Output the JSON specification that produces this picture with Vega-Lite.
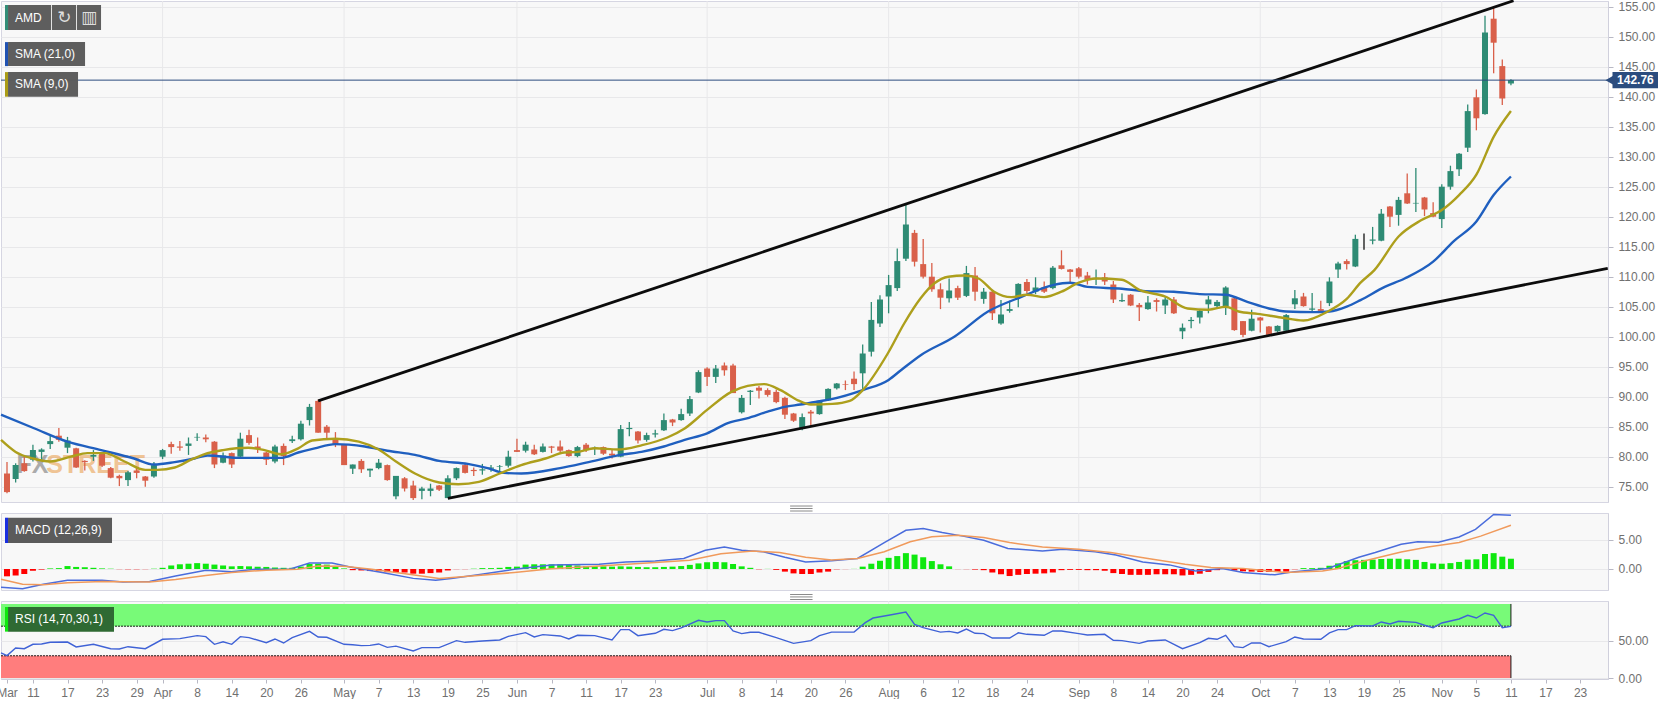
{"$schema":"https://vega.github.io/schema/vega-lite/v6.json","background":"#ffffff","padding":{"left":-5,"top":-6,"right":0,"bottom":0},"autosize":{"type":"pad"},"spacing":0,
"config":{"view":{"fill":"#f8f8f8","stroke":"#d6d6e2"},"font":"Liberation Sans","axis":{"labelFont":"Liberation Sans","labelColor":"#707070","labelFontSize":12,"tickColor":"#b8b8c4","domainColor":"#d0d0dc","gridColor":"#e8e8ea","title":null,"labelBound":false}},
"datasets":{
"months":[{"t":18},{"t":39},{"t":59},{"t":81},{"t":102},{"t":124},{"t":145},{"t":166}],
"candles":[
{"t":0,"o":77.2,"h":79.1,"l":73.9,"c":74.1},{"t":1,"o":76.3,"h":78.9,"l":75.7,"c":78.6},{"t":2,"o":78.9,"h":80.3,"l":77.5,"c":77.6},{"t":3,"o":79.5,"h":82,"l":79.2,"c":81.1},{"t":4,"o":80.8,"h":81.4,"l":79.5,"c":81.2},{"t":5,"o":82.1,"h":83.5,"l":81.3,"c":82.6},{"t":6,"o":83.5,"h":84.8,"l":82.5,"c":82.8},{"t":7,"o":81.5,"h":83.3,"l":80.6,"c":82.7},{"t":8,"o":81.4,"h":81.5,"l":78.1,"c":78.2},{"t":9,"o":79.3,"h":79.4,"l":77.7,"c":79.1},
{"t":10,"o":80,"h":81.1,"l":79.3,"c":80.3},{"t":11,"o":80.6,"h":80.8,"l":78.3,"c":78.5},{"t":12,"o":78.1,"h":78.3,"l":76.4,"c":76.5},{"t":13,"o":76.8,"h":77,"l":75.1,"c":76.4},{"t":14,"o":76.1,"h":77.6,"l":75.1,"c":77.4},{"t":15,"o":77.7,"h":78.3,"l":76.4,"c":77.3},{"t":16,"o":76.7,"h":76.8,"l":75,"c":76},{"t":17,"o":76.7,"h":79.1,"l":76.5,"c":78.6},{"t":18,"o":80,"h":81.3,"l":79.6,"c":81.1},{"t":19,"o":82.1,"h":82.5,"l":80.5,"c":81.6},
{"t":20,"o":81.7,"h":82.6,"l":81,"c":81.5},{"t":21,"o":81.8,"h":83.2,"l":80.3,"c":82.2},{"t":22,"o":83.2,"h":83.9,"l":82.6,"c":83.3},{"t":23,"o":83.2,"h":83.7,"l":82.4,"c":82.9},{"t":24,"o":82.5,"h":82.6,"l":78.1,"c":78.7},{"t":25,"o":79,"h":80.7,"l":78.9,"c":80.2},{"t":26,"o":80.6,"h":80.7,"l":78.1,"c":78.7},{"t":27,"o":80,"h":84,"l":79.7,"c":83},{"t":28,"o":83.6,"h":84.5,"l":82,"c":82.3},{"t":29,"o":81.7,"h":83.2,"l":80.6,"c":81.3},
{"t":30,"o":80.7,"h":80.8,"l":78.6,"c":79.5},{"t":31,"o":79.2,"h":82,"l":78.9,"c":81.7},{"t":32,"o":81.8,"h":82.2,"l":78.6,"c":80.1},{"t":33,"o":82.6,"h":83.5,"l":82.3,"c":82.9},{"t":34,"o":82.9,"h":86,"l":82.7,"c":85.5},{"t":35,"o":86.1,"h":88.8,"l":85.2,"c":88.3},{"t":36,"o":89.3,"h":89.5,"l":84,"c":84},{"t":37,"o":85,"h":85.3,"l":83.1,"c":84},{"t":38,"o":82.9,"h":84.1,"l":81.6,"c":82},{"t":39,"o":82,"h":82.1,"l":78.6,"c":78.6},
{"t":40,"o":78,"h":78.7,"l":77.1,"c":78.7},{"t":41,"o":79.3,"h":79.6,"l":77.3,"c":77.9},{"t":42,"o":77.7,"h":78,"l":76.6,"c":78},{"t":43,"o":78.1,"h":79.6,"l":77.9,"c":79},{"t":44,"o":78.6,"h":78.7,"l":76,"c":76.1},{"t":45,"o":73.4,"h":76.8,"l":72.9,"c":76.8},{"t":46,"o":76.4,"h":76.6,"l":74.2,"c":74.7},{"t":47,"o":75.2,"h":76,"l":72.8,"c":73.1},{"t":48,"o":74.3,"h":75,"l":72.9,"c":74.7},{"t":49,"o":74.3,"h":75.5,"l":73.4,"c":74.7},
{"t":50,"o":75.2,"h":75.3,"l":74.3,"c":74.5},{"t":51,"o":73.1,"h":76.9,"l":73.1,"c":76.4},{"t":52,"o":76.4,"h":78.2,"l":76.1,"c":78.1},{"t":53,"o":78.6,"h":78.8,"l":77.2,"c":77.3},{"t":54,"o":77.8,"h":78.2,"l":76.8,"c":77.6},{"t":55,"o":77.7,"h":78.8,"l":77,"c":77.9},{"t":56,"o":78,"h":78.6,"l":77.5,"c":78.2},{"t":57,"o":78.3,"h":78.6,"l":77.3,"c":78.4},{"t":58,"o":78.5,"h":81,"l":78.2,"c":80},{"t":59,"o":81.1,"h":83,"l":80.8,"c":80.8},
{"t":60,"o":81,"h":82.5,"l":80.7,"c":82},{"t":61,"o":81.2,"h":82,"l":80.3,"c":80.4},{"t":62,"o":80.8,"h":82.2,"l":80.7,"c":81.7},{"t":63,"o":81.7,"h":81.8,"l":80.6,"c":81.5},{"t":64,"o":81.7,"h":82.7,"l":80.8,"c":81},{"t":65,"o":81.1,"h":81.2,"l":80,"c":80.1},{"t":66,"o":80.1,"h":81.8,"l":79.9,"c":81.6},{"t":67,"o":82,"h":82.3,"l":80.8,"c":81.1},{"t":68,"o":81.3,"h":81.7,"l":80.3,"c":81.5},{"t":69,"o":81.6,"h":81.7,"l":80.3,"c":80.5},
{"t":70,"o":80.5,"h":81.2,"l":79.7,"c":80.2},{"t":71,"o":80,"h":85.3,"l":79.9,"c":84.6},{"t":72,"o":84.6,"h":85.8,"l":83.4,"c":84.8},{"t":73,"o":84.2,"h":84.3,"l":82.2,"c":82.7},{"t":74,"o":82.8,"h":84,"l":82.5,"c":83.6},{"t":75,"o":83.7,"h":84.5,"l":83.2,"c":83.9},{"t":76,"o":84.4,"h":87.2,"l":84.3,"c":86.1},{"t":77,"o":86.2,"h":86.3,"l":85.1,"c":85.7},{"t":78,"o":86.1,"h":88,"l":86,"c":87.1},{"t":79,"o":87.2,"h":90.1,"l":86.8,"c":89.6},
{"t":80,"o":90.7,"h":94.4,"l":90.6,"c":94.1},{"t":81,"o":94.7,"h":94.9,"l":91.8,"c":93.3},{"t":82,"o":93.3,"h":95.3,"l":92.3,"c":94.7},{"t":83,"o":95.2,"h":95.7,"l":93.5,"c":94.4},{"t":84,"o":95.2,"h":95.5,"l":90.6,"c":90.6},{"t":85,"o":87.4,"h":90.3,"l":87.2,"c":89.8},{"t":86,"o":90.8,"h":91.1,"l":88.6,"c":91},{"t":87,"o":91.5,"h":91.8,"l":89.7,"c":91},{"t":88,"o":91.1,"h":91.4,"l":90,"c":90.3},{"t":89,"o":90.8,"h":91.2,"l":88.9,"c":89.1},
{"t":90,"o":89.8,"h":90,"l":86.3,"c":87},{"t":91,"o":87.2,"h":87.3,"l":85.8,"c":86},{"t":92,"o":84.7,"h":87.2,"l":84.4,"c":86.6},{"t":93,"o":87.5,"h":87.8,"l":85.1,"c":87.2},{"t":94,"o":87.1,"h":89.4,"l":87,"c":89.3},{"t":95,"o":89.4,"h":91.4,"l":89.3,"c":91.3},{"t":96,"o":91.4,"h":92.3,"l":91.2,"c":92.2},{"t":97,"o":92.1,"h":92.7,"l":91.1,"c":92},{"t":98,"o":93,"h":94.2,"l":91.1,"c":92.1},{"t":99,"o":93.9,"h":98.7,"l":91.1,"c":97.2},
{"t":100,"o":97.5,"h":105.8,"l":96.7,"c":102.8},{"t":101,"o":102.2,"h":106.9,"l":101.6,"c":106.2},{"t":102,"o":106.7,"h":110.3,"l":103.9,"c":108.6},{"t":103,"o":108.1,"h":114.7,"l":107.6,"c":112.6},{"t":104,"o":113,"h":122.1,"l":112.6,"c":118.7},{"t":105,"o":117.3,"h":117.8,"l":111.7,"c":112.5},{"t":106,"o":112.1,"h":116.3,"l":109.7,"c":110},{"t":107,"o":110,"h":112.3,"l":107.5,"c":107.9},{"t":108,"o":107.9,"h":108.9,"l":104.6,"c":106.5},{"t":109,"o":106.4,"h":109.7,"l":105.7,"c":107.7},
{"t":110,"o":108.1,"h":108.5,"l":106.1,"c":106.5},{"t":111,"o":106.8,"h":111.8,"l":106.6,"c":110.6},{"t":112,"o":110.2,"h":111.6,"l":106,"c":107.5},{"t":113,"o":106.3,"h":108.1,"l":105.5,"c":107.5},{"t":114,"o":107.5,"h":107.6,"l":102.8,"c":103.9},{"t":115,"o":102.2,"h":106.1,"l":102,"c":103.7},{"t":116,"o":104.3,"h":106,"l":104,"c":104.6},{"t":117,"o":106.5,"h":108.9,"l":104.9,"c":108.8},{"t":118,"o":109.1,"h":109.6,"l":107.2,"c":107.6},{"t":119,"o":107.5,"h":109.9,"l":107.1,"c":108.2},
{"t":120,"o":108.2,"h":109.2,"l":107.3,"c":107.5},{"t":121,"o":108.1,"h":111.8,"l":107.9,"c":111.5},{"t":122,"o":111.9,"h":114.4,"l":111.2,"c":111.3},{"t":123,"o":111.2,"h":111.3,"l":109,"c":110.8},{"t":124,"o":111.4,"h":111.6,"l":109.7,"c":110},{"t":125,"o":110.2,"h":110.8,"l":108.7,"c":109.5},{"t":126,"o":109.6,"h":111.2,"l":108.6,"c":109.8},{"t":127,"o":109.9,"h":110.6,"l":108.6,"c":109.2},{"t":128,"o":108.7,"h":109.3,"l":105.6,"c":106.2},{"t":129,"o":105.9,"h":107.2,"l":105.8,"c":106.1},
{"t":130,"o":107,"h":107.1,"l":105.1,"c":105.2},{"t":131,"o":105.3,"h":105.6,"l":102.6,"c":104.9},{"t":132,"o":104.6,"h":106.8,"l":104.5,"c":105.7},{"t":133,"o":106.1,"h":106.4,"l":104.2,"c":105.8},{"t":134,"o":105.2,"h":106.7,"l":103.8,"c":106.2},{"t":135,"o":106.2,"h":106.6,"l":103.8,"c":103.9},{"t":136,"o":100.9,"h":102.2,"l":99.6,"c":101.5},{"t":137,"o":102.6,"h":103.3,"l":101.4,"c":102.8},{"t":138,"o":103.2,"h":104.6,"l":102.2,"c":104.3},{"t":139,"o":105.4,"h":106.8,"l":103.9,"c":106.2},
{"t":140,"o":105.1,"h":106.1,"l":104.7,"c":105.8},{"t":141,"o":105.1,"h":108.4,"l":103.6,"c":108.2},{"t":142,"o":106.4,"h":106.8,"l":101,"c":101.1},{"t":143,"o":102.6,"h":102.6,"l":99.9,"c":100.3},{"t":144,"o":101,"h":104.5,"l":100.9,"c":103},{"t":145,"o":103.2,"h":103.3,"l":100.7,"c":102.7},{"t":146,"o":101.7,"h":101.8,"l":100.2,"c":100.3},{"t":147,"o":100.9,"h":101.9,"l":100.7,"c":101.8},{"t":148,"o":101,"h":103.8,"l":100.9,"c":103.6},{"t":149,"o":105.4,"h":107.8,"l":104.6,"c":106.4},
{"t":150,"o":106.7,"h":107.3,"l":105,"c":105.1},{"t":151,"o":104.5,"h":107.3,"l":104.2,"c":104.7},{"t":152,"o":104.6,"h":106,"l":104.2,"c":104.3},{"t":153,"o":105.6,"h":109.9,"l":105.1,"c":109.2},{"t":154,"o":111.2,"h":112.5,"l":109.8,"c":112.2},{"t":155,"o":112.6,"h":112.9,"l":111.2,"c":112.1},{"t":156,"o":111.7,"h":117,"l":111.6,"c":116.3},{"t":157,"o":116.2,"h":117.2,"l":114.5,"c":116.2},{"t":158,"o":116,"h":118.3,"l":115.4,"c":116.2},{"t":159,"o":116,"h":121.3,"l":115.9,"c":120.5},
{"t":160,"o":121.7,"h":121.8,"l":118.3,"c":120},{"t":161,"o":120.3,"h":123.3,"l":118.5,"c":122.8},{"t":162,"o":123.9,"h":127.2,"l":122.1,"c":122.2},{"t":163,"o":122.2,"h":128.1,"l":120.8,"c":122.3},{"t":164,"o":123.2,"h":123.3,"l":120.1,"c":121.2},{"t":165,"o":120.6,"h":122.4,"l":119.9,"c":120},{"t":166,"o":119.6,"h":125.4,"l":118.1,"c":125},{"t":167,"o":125,"h":128.5,"l":124.5,"c":127.6},{"t":168,"o":127.9,"h":130.6,"l":126.8,"c":130.5},{"t":169,"o":131.5,"h":138.7,"l":130.8,"c":137.6},
{"t":170,"o":139.9,"h":141.2,"l":134.4,"c":136.4},{"t":171,"o":137.1,"h":153.5,"l":137,"c":150.7},{"t":172,"o":153,"h":155.1,"l":143.9,"c":149},{"t":173,"o":145.1,"h":146.2,"l":138.6,"c":139.7},{"t":174,"o":142.2,"h":142.9,"l":141.9,"c":142.76}],
"sma":[
{"s":"21","t":-0.69,"v":87},{"s":"21","t":3.2,"v":84.7},{"s":"21","t":7,"v":82.5},{"s":"21","t":10.9,"v":81.1},{"s":"21","t":14.7,"v":79.7},{"s":"21","t":17,"v":78.7},{"s":"21","t":19.4,"v":79.1},{"s":"21","t":21.7,"v":79.7},{"s":"21","t":23.2,"v":80.2},{"s":"21","t":27,"v":79.8},{"s":"21","t":31.7,"v":79.8},{"s":"21","t":33.7,"v":80.7},{"s":"21","t":35.6,"v":81.4},{"s":"21","t":38,"v":82.1},{"s":"21","t":41.4,"v":81.7},{"s":"21","t":44,"v":81},{"s":"21","t":47.2,"v":80.3},{"s":"21","t":50,"v":79.3},{"s":"21","t":53.3,"v":78.8},{"s":"21","t":55.6,"v":78.1},{"s":"21","t":57.5,"v":77.3},{"s":"21","t":59.5,"v":77.2},{"s":"21","t":64,"v":78.1},{"s":"21","t":67,"v":79},{"s":"21","t":71,"v":80.3},{"s":"21","t":73.4,"v":80.8},{"s":"21","t":76,"v":81.7},{"s":"21","t":78.4,"v":82.8},{"s":"21","t":81,"v":83.9},{"s":"21","t":83.4,"v":85.6},{"s":"21","t":85.6,"v":86.4},{"s":"21","t":88,"v":87.5},{"s":"21","t":90,"v":88.3},{"s":"21","t":91.8,"v":88.7},{"s":"21","t":93.8,"v":89.2},{"s":"21","t":95.4,"v":89.6},{"s":"21","t":99,"v":91.1},{"s":"21","t":102,"v":92.8},{"s":"21","t":103.5,"v":94.5},{"s":"21","t":105.8,"v":97},{"s":"21","t":109.6,"v":100},{"s":"21","t":113.5,"v":104.2},{"s":"21","t":117.3,"v":106.6},{"s":"21","t":121,"v":108.6},{"s":"21","t":123,"v":109},{"s":"21","t":125,"v":108.3},{"s":"21","t":129,"v":108},{"s":"21","t":131.7,"v":107.6},{"s":"21","t":135,"v":107.5},{"s":"21","t":138,"v":107.1},{"s":"21","t":141,"v":107},{"s":"21","t":143.5,"v":105.8},{"s":"21","t":146,"v":104.7},{"s":"21","t":148,"v":104.2},{"s":"21","t":151.3,"v":104.1},{"s":"21","t":153,"v":104.2},{"s":"21","t":155,"v":105},{"s":"21","t":156.6,"v":106.1},{"s":"21","t":159.4,"v":108.3},{"s":"21","t":161.7,"v":109.7},{"s":"21","t":165,"v":112.5},{"s":"21","t":167.3,"v":115.8},{"s":"21","t":170,"v":119.2},{"s":"21","t":172,"v":123.6},{"s":"21","t":174,"v":126.7},
{"s":"9","t":-0.69,"v":82.8},{"s":"9","t":1,"v":80.8},{"s":"9","t":3,"v":79.7},{"s":"9","t":5,"v":79.2},{"s":"9","t":7.4,"v":80},{"s":"9","t":9.3,"v":80.6},{"s":"9","t":11.3,"v":80.6},{"s":"9","t":13.6,"v":79.2},{"s":"9","t":16,"v":77.8},{"s":"9","t":17.4,"v":77.8},{"s":"9","t":19.4,"v":78.2},{"s":"9","t":21.3,"v":79.5},{"s":"9","t":22.8,"v":80.4},{"s":"9","t":25,"v":81.1},{"s":"9","t":27.9,"v":81.5},{"s":"9","t":29.8,"v":81.1},{"s":"9","t":31.7,"v":80.4},{"s":"9","t":33.7,"v":81.4},{"s":"9","t":35.3,"v":82.7},{"s":"9","t":38,"v":83},{"s":"9","t":40.7,"v":82.5},{"s":"9","t":43,"v":81.2},{"s":"9","t":45,"v":79.2},{"s":"9","t":47.2,"v":77.2},{"s":"9","t":50,"v":75.7},{"s":"9","t":52.2,"v":75.4},{"s":"9","t":54.6,"v":75.8},{"s":"9","t":57,"v":77.2},{"s":"9","t":59.5,"v":78.6},{"s":"9","t":62.3,"v":79.7},{"s":"9","t":64.5,"v":80.7},{"s":"9","t":66,"v":80.8},{"s":"9","t":68,"v":81.4},{"s":"9","t":70.7,"v":81.2},{"s":"9","t":73.4,"v":81.9},{"s":"9","t":76.4,"v":83.2},{"s":"9","t":78.4,"v":84.7},{"s":"9","t":81,"v":87.8},{"s":"9","t":83.8,"v":90.8},{"s":"9","t":85.7,"v":91.8},{"s":"9","t":87.6,"v":92.1},{"s":"9","t":89.5,"v":91.1},{"s":"9","t":91.5,"v":89.4},{"s":"9","t":93,"v":88.7},{"s":"9","t":95.5,"v":88.8},{"s":"9","t":97.5,"v":89.3},{"s":"9","t":99,"v":91.1},{"s":"9","t":101.9,"v":97.2},{"s":"9","t":103.8,"v":102.2},{"s":"9","t":105.7,"v":106.4},{"s":"9","t":107.3,"v":108.9},{"s":"9","t":108.9,"v":110},{"s":"9","t":110.8,"v":110.2},{"s":"9","t":112.4,"v":109.7},{"s":"9","t":114.2,"v":107.5},{"s":"9","t":116.2,"v":106.6},{"s":"9","t":118,"v":107},{"s":"9","t":120,"v":106.6},{"s":"9","t":122,"v":107.5},{"s":"9","t":124,"v":109},{"s":"9","t":126,"v":109.7},{"s":"9","t":129,"v":109.5},{"s":"9","t":131,"v":107.8},{"s":"9","t":134,"v":106.7},{"s":"9","t":136.6,"v":104.7},{"s":"9","t":139,"v":104.5},{"s":"9","t":141,"v":105},{"s":"9","t":142.5,"v":104.2},{"s":"9","t":144.7,"v":103.8},{"s":"9","t":147.4,"v":103.2},{"s":"9","t":150,"v":102.7},{"s":"9","t":152.8,"v":104.2},{"s":"9","t":155,"v":106.3},{"s":"9","t":156.6,"v":109},{"s":"9","t":158.2,"v":111.1},{"s":"9","t":161,"v":116.7},{"s":"9","t":163.6,"v":119.4},{"s":"9","t":166,"v":121.1},{"s":"9","t":168,"v":123.6},{"s":"9","t":170,"v":127},{"s":"9","t":172,"v":133.3},{"s":"9","t":174,"v":137.6}],
"trend":[{"n":"upper","t":36,"p":89.3},{"n":"upper","t":174.3,"p":156},{"n":"lower","t":51,"p":73.05},{"n":"lower","t":185.2,"p":111.4}],
"boxes1":[
{"k":"green","a":-0.23,"b":0.12,"lo":151.12,"hi":155.28},{"k":"box","a":0.12,"b":5.1,"lo":151.12,"hi":155.28},{"k":"box","a":5.2,"b":8,"lo":151.12,"hi":155.28},{"k":"box","a":8.1,"b":10.88,"lo":151.12,"hi":155.28},
{"k":"blue","a":-0.23,"b":0.12,"lo":145.1,"hi":149.1},{"k":"box","a":0.12,"b":9.03,"lo":145.1,"hi":149.1},
{"k":"olive","a":-0.23,"b":0.12,"lo":140,"hi":144.1},{"k":"box","a":0.12,"b":8.22,"lo":140,"hi":144.1}],
"labels1":[{"t":0.93,"p":153.2,"x":"AMD"},{"t":0.93,"p":147.1,"x":"SMA (21,0)"},{"t":0.93,"p":142.05,"x":"SMA (9,0)"}],
"macdLines":[
{"s":"macd","t":-0.69,"v":-3.1},{"s":"macd","t":1.8,"v":-3.35},{"s":"macd","t":4.2,"v":-2.6},{"s":"macd","t":7,"v":-1.9},{"s":"macd","t":11,"v":-1.9},{"s":"macd","t":13.4,"v":-2.2},{"s":"macd","t":16.5,"v":-2.15},{"s":"macd","t":19.5,"v":-1.2},{"s":"macd","t":23,"v":-0.2},{"s":"macd","t":26,"v":-0.45},{"s":"macd","t":28.7,"v":-0.05},{"s":"macd","t":32.7,"v":-0.05},{"s":"macd","t":35,"v":1},{"s":"macd","t":37.6,"v":1},{"s":"macd","t":39.7,"v":0.35},{"s":"macd","t":43.4,"v":-0.6},{"s":"macd","t":47,"v":-1.6},{"s":"macd","t":49.6,"v":-1.9},{"s":"macd","t":51.4,"v":-1.6},{"s":"macd","t":54.5,"v":-1},{"s":"macd","t":58.7,"v":-0.05},{"s":"macd","t":63,"v":0.7},{"s":"macd","t":68.5,"v":0.8},{"s":"macd","t":71.6,"v":1.2},{"s":"macd","t":75,"v":1.35},{"s":"macd","t":78.3,"v":1.8},{"s":"macd","t":80.8,"v":3.2},{"s":"macd","t":83,"v":3.75},{"s":"macd","t":85,"v":3.2},{"s":"macd","t":87.5,"v":2.95},{"s":"macd","t":90,"v":2},{"s":"macd","t":92.4,"v":1.2},{"s":"macd","t":95.4,"v":1.4},{"s":"macd","t":98.4,"v":1.8},{"s":"macd","t":101.5,"v":4.5},{"s":"macd","t":104,"v":6.6},{"s":"macd","t":106,"v":6.9},{"s":"macd","t":108.2,"v":6.2},{"s":"macd","t":110.6,"v":5.6},{"s":"macd","t":113,"v":4.9},{"s":"macd","t":115.8,"v":3.5},{"s":"macd","t":119.8,"v":3.05},{"s":"macd","t":122.2,"v":3.35},{"s":"macd","t":125.9,"v":2.95},{"s":"macd","t":128.3,"v":2.4},{"s":"macd","t":131.4,"v":1.2},{"s":"macd","t":134.5,"v":0.7},{"s":"macd","t":137.5,"v":-0.35},{"s":"macd","t":140.6,"v":0.1},{"s":"macd","t":143,"v":-0.6},{"s":"macd","t":146.7,"v":-1},{"s":"macd","t":149,"v":-0.45},{"s":"macd","t":152.8,"v":0.1},{"s":"macd","t":156.4,"v":2},{"s":"macd","t":158.3,"v":2.8},{"s":"macd","t":161.3,"v":4.2},{"s":"macd","t":163.2,"v":4.65},{"s":"macd","t":165.6,"v":4.55},{"s":"macd","t":168,"v":5.45},{"s":"macd","t":169.9,"v":6.75},{"s":"macd","t":172,"v":9.3},{"s":"macd","t":174,"v":9.15},
{"s":"signal","t":-0.69,"v":-1.75},{"s":"signal","t":1.8,"v":-2.6},{"s":"signal","t":4.2,"v":-2.7},{"s":"signal","t":7,"v":-2.35},{"s":"signal","t":11,"v":-2.15},{"s":"signal","t":16.5,"v":-2.2},{"s":"signal","t":19.5,"v":-1.8},{"s":"signal","t":23,"v":-1.1},{"s":"signal","t":26,"v":-0.6},{"s":"signal","t":30,"v":-0.2},{"s":"signal","t":33.6,"v":-0.05},{"s":"signal","t":36,"v":0.5},{"s":"signal","t":39,"v":0.45},{"s":"signal","t":42.2,"v":-0.05},{"s":"signal","t":46.5,"v":-0.9},{"s":"signal","t":50,"v":-1.6},{"s":"signal","t":53,"v":-1.3},{"s":"signal","t":58.7,"v":-0.6},{"s":"signal","t":63,"v":0.05},{"s":"signal","t":68.5,"v":0.5},{"s":"signal","t":75,"v":1.1},{"s":"signal","t":79,"v":1.5},{"s":"signal","t":82.6,"v":2.6},{"s":"signal","t":86.3,"v":3.05},{"s":"signal","t":89.4,"v":2.8},{"s":"signal","t":92.4,"v":2},{"s":"signal","t":95.4,"v":1.55},{"s":"signal","t":98.4,"v":1.8},{"s":"signal","t":101.5,"v":2.95},{"s":"signal","t":104.5,"v":4.65},{"s":"signal","t":107,"v":5.5},{"s":"signal","t":110,"v":5.75},{"s":"signal","t":113,"v":5.35},{"s":"signal","t":116,"v":4.5},{"s":"signal","t":119.8,"v":3.75},{"s":"signal","t":124,"v":3.35},{"s":"signal","t":127.7,"v":2.8},{"s":"signal","t":132,"v":1.8},{"s":"signal","t":136.3,"v":0.8},{"s":"signal","t":139.3,"v":0.25},{"s":"signal","t":143,"v":0.1},{"s":"signal","t":147.9,"v":-0.6},{"s":"signal","t":152.2,"v":-0.35},{"s":"signal","t":154,"v":0.1},{"s":"signal","t":157,"v":1.35},{"s":"signal","t":161.3,"v":2.9},{"s":"signal","t":164.4,"v":3.75},{"s":"signal","t":168,"v":4.5},{"s":"signal","t":170.5,"v":5.6},{"s":"signal","t":174,"v":7.45}],
"hist":[{"t":0,"h":-1.25},{"t":1,"h":-1.1},{"t":2,"h":-0.85},{"t":3,"h":-0.3},{"t":4,"h":-0.1},{"t":5,"h":0.1},{"t":6,"h":0.15},{"t":7,"h":0.5},{"t":8,"h":0.35},{"t":9,"h":0.3},{"t":10,"h":0.2},{"t":11,"h":0.1},{"t":12,"h":0.05},{"t":13,"h":-0.03},{"t":14,"h":-0.05},{"t":15,"h":-0.05},{"t":16,"h":-0.03},{"t":17,"h":0.05},{"t":18,"h":0.2},{"t":19,"h":0.6},{"t":20,"h":0.8},{"t":21,"h":0.9},{"t":22,"h":1},{"t":23,"h":0.9},{"t":24,"h":0.75},{"t":25,"h":0.6},{"t":26,"h":0.45},{"t":27,"h":0.5},{"t":28,"h":0.45},{"t":29,"h":0.4},{"t":30,"h":0.35},{"t":31,"h":0.25},{"t":32,"h":0.2},{"t":33,"h":0.2},{"t":34,"h":0.4},{"t":35,"h":0.85},{"t":36,"h":0.9},{"t":37,"h":0.75},{"t":38,"h":0.5},{"t":39,"h":0.1},{"t":40,"h":-0.2},{"t":41,"h":-0.25},{"t":42,"h":-0.35},{"t":43,"h":-0.4},{"t":44,"h":-0.55},{"t":45,"h":-0.6},{"t":46,"h":-0.6},{"t":47,"h":-0.8},{"t":48,"h":-0.8},{"t":49,"h":-0.7},{"t":50,"h":-0.6},{"t":51,"h":-0.25},{"t":52,"h":-0.03},{"t":53,"h":-0.03},{"t":54,"h":0.05},{"t":55,"h":0.15},{"t":56,"h":0.15},{"t":57,"h":0.2},{"t":58,"h":0.35},{"t":59,"h":0.4},{"t":60,"h":0.75},{"t":61,"h":0.8},{"t":62,"h":0.8},{"t":63,"h":0.8},{"t":64,"h":0.8},{"t":65,"h":0.7},{"t":66,"h":0.6},{"t":67,"h":0.5},{"t":68,"h":0.5},{"t":69,"h":0.45},{"t":70,"h":0.4},{"t":71,"h":0.45},{"t":72,"h":0.4},{"t":73,"h":0.35},{"t":74,"h":0.3},{"t":75,"h":0.3},{"t":76,"h":0.35},{"t":77,"h":0.4},{"t":78,"h":0.5},{"t":79,"h":0.7},{"t":80,"h":0.95},{"t":81,"h":1.15},{"t":82,"h":1.2},{"t":83,"h":1.15},{"t":84,"h":0.85},{"t":85,"h":0.45},{"t":86,"h":0.2},{"t":87,"h":-0.05},{"t":88,"h":0.02},{"t":89,"h":-0.15},{"t":90,"h":-0.45},{"t":91,"h":-0.75},{"t":92,"h":-0.85},{"t":93,"h":-0.85},{"t":94,"h":-0.6},{"t":95,"h":-0.45},{"t":96,"h":-0.05},{"t":97,"h":-0.02},{"t":98,"h":0.02},{"t":99,"h":0.4},{"t":100,"h":0.9},{"t":101,"h":1.4},{"t":102,"h":1.9},{"t":103,"h":2.2},{"t":104,"h":2.7},{"t":105,"h":2.45},{"t":106,"h":2},{"t":107,"h":1.35},{"t":108,"h":0.8},{"t":109,"h":0.45},{"t":110,"h":-0.02},{"t":111,"h":-0.03},{"t":112,"h":-0.1},{"t":113,"h":-0.2},{"t":114,"h":-0.6},{"t":115,"h":-0.9},{"t":116,"h":-1.2},{"t":117,"h":-1},{"t":118,"h":-0.85},{"t":119,"h":-0.8},{"t":120,"h":-0.75},{"t":121,"h":-0.6},{"t":122,"h":-0.2},{"t":123,"h":-0.15},{"t":124,"h":-0.15},{"t":125,"h":-0.2},{"t":126,"h":-0.2},{"t":127,"h":-0.3},{"t":128,"h":-0.7},{"t":129,"h":-0.85},{"t":130,"h":-1},{"t":131,"h":-1},{"t":132,"h":-1},{"t":133,"h":-0.9},{"t":134,"h":-0.9},{"t":135,"h":-0.9},{"t":136,"h":-1.1},{"t":137,"h":-1},{"t":138,"h":-0.8},{"t":139,"h":-0.5},{"t":140,"h":-0.2},{"t":141,"h":0.05},{"t":142,"h":-0.25},{"t":143,"h":-0.4},{"t":144,"h":-0.45},{"t":145,"h":-0.5},{"t":146,"h":-0.5},{"t":147,"h":-0.5},{"t":148,"h":-0.45},{"t":149,"h":-0.05},{"t":150,"h":0.15},{"t":151,"h":0.15},{"t":152,"h":0.2},{"t":153,"h":0.55},{"t":154,"h":0.95},{"t":155,"h":1.35},{"t":156,"h":1.5},{"t":157,"h":1.55},{"t":158,"h":1.6},{"t":159,"h":1.7},{"t":160,"h":1.75},{"t":161,"h":1.75},{"t":162,"h":1.65},{"t":163,"h":1.55},{"t":164,"h":1.2},{"t":165,"h":0.95},{"t":166,"h":0.9},{"t":167,"h":1},{"t":168,"h":1.2},{"t":169,"h":1.6},{"t":170,"h":1.65},{"t":171,"h":2.55},{"t":172,"h":2.7},{"t":173,"h":2.1},{"t":174,"h":1.75}],
"rsi":[{"t":-0.69,"v":33.8},{"t":0,"v":30.2},{"t":1,"v":40.5},{"t":2,"v":39.6},{"t":3,"v":45.5},{"t":4,"v":46},{"t":5,"v":48.2},{"t":7,"v":48.6},{"t":8,"v":41.9},{"t":10,"v":45.5},{"t":12,"v":39.6},{"t":13,"v":39.2},{"t":14,"v":42.3},{"t":16,"v":39.6},{"t":18,"v":52.3},{"t":20,"v":53.2},{"t":22,"v":57.2},{"t":23,"v":55.9},{"t":24,"v":45.5},{"t":25,"v":49},{"t":26,"v":45.5},{"t":27,"v":55.9},{"t":28,"v":54.5},{"t":30,"v":47.7},{"t":31,"v":52.7},{"t":32,"v":47.3},{"t":33,"v":54.5},{"t":35,"v":63},{"t":36,"v":55.4},{"t":37,"v":55},{"t":39,"v":45.5},{"t":40,"v":45},{"t":41,"v":43.7},{"t":42,"v":44},{"t":43,"v":46},{"t":44,"v":41.4},{"t":45,"v":43},{"t":47,"v":36.5},{"t":48,"v":41},{"t":50,"v":41},{"t":52,"v":50.5},{"t":53,"v":48.2},{"t":55,"v":50},{"t":57,"v":51.4},{"t":58,"v":56.3},{"t":60,"v":61.3},{"t":61,"v":55.4},{"t":62,"v":58.6},{"t":64,"v":56.8},{"t":65,"v":52.7},{"t":66,"v":57.7},{"t":68,"v":57.2},{"t":70,"v":51.4},{"t":71,"v":65.3},{"t":72,"v":65.3},{"t":73,"v":57.2},{"t":75,"v":60.4},{"t":76,"v":65.8},{"t":77,"v":64},{"t":78,"v":67.6},{"t":80,"v":78},{"t":81,"v":75.7},{"t":82,"v":77.5},{"t":83,"v":77.5},{"t":84,"v":63.5},{"t":85,"v":60},{"t":86,"v":61.7},{"t":87,"v":61.7},{"t":89,"v":54.5},{"t":91,"v":46.8},{"t":93,"v":50.5},{"t":94,"v":57.2},{"t":95.4,"v":62},{"t":98,"v":62},{"t":99.3,"v":74.8},{"t":100.2,"v":81},{"t":102,"v":84.7},{"t":104,"v":89},{"t":105,"v":72.5},{"t":106,"v":68},{"t":108,"v":62},{"t":109,"v":63},{"t":110,"v":60.8},{"t":111,"v":66},{"t":112,"v":60.4},{"t":113,"v":60},{"t":114,"v":54},{"t":116,"v":54},{"t":117,"v":61},{"t":118,"v":59},{"t":120,"v":57.7},{"t":121,"v":63.5},{"t":122,"v":63.5},{"t":124,"v":60},{"t":125,"v":58},{"t":127,"v":59},{"t":128,"v":51},{"t":129,"v":50.5},{"t":131,"v":46.8},{"t":132,"v":50},{"t":134,"v":51.4},{"t":136,"v":39.6},{"t":138,"v":47.7},{"t":139,"v":53.6},{"t":140,"v":52.3},{"t":141,"v":57.7},{"t":142,"v":42.3},{"t":143,"v":41},{"t":144,"v":47.3},{"t":145,"v":47.3},{"t":146,"v":42.3},{"t":148,"v":49},{"t":149,"v":55.4},{"t":150,"v":52.7},{"t":152,"v":52.3},{"t":153,"v":61},{"t":154,"v":65.3},{"t":155,"v":65.3},{"t":156,"v":70.7},{"t":158,"v":70.3},{"t":159,"v":75.7},{"t":160,"v":73},{"t":161,"v":76.6},{"t":163,"v":75.2},{"t":164,"v":71.2},{"t":165,"v":68},{"t":166,"v":74.3},{"t":168,"v":79.7},{"t":169,"v":84.7},{"t":170,"v":81},{"t":171,"v":87.8},{"t":172,"v":84.7},{"t":173,"v":68},{"t":174,"v":69.8}]
},
"vconcat":[
{"width":1607,"height":501,"layer":[
{"data":{"name":"months"},"mark":{"type":"rule","color":"#e8e8ea"},"encoding":{"x":{"field":"t","type":"quantitative","scale":{"domain":[-0.694,185.23],"nice":false,"zero":false,"padding":0},"axis":null}}},
{"data":{"values":[{"t":1.1,"p":78.6,"x":"FX"}]},"mark":{"type":"text","font":"Liberation Sans","fontWeight":"bold","fontSize":25,"align":"left","baseline":"middle","color":"#6e6e6e","opacity":0.55},"encoding":{"x":{"field":"t","type":"quantitative"},"y":{"field":"p","type":"quantitative"},"text":{"field":"x"}}},
{"data":{"values":[{"t":4.55,"p":78.6,"x":"STREET"}]},"mark":{"type":"text","font":"Liberation Sans","fontWeight":"bold","fontSize":25,"align":"left","baseline":"middle","color":"#e89a45","opacity":0.55},"encoding":{"x":{"field":"t","type":"quantitative"},"y":{"field":"p","type":"quantitative"},"text":{"field":"x"}}},
{"data":{"name":"candles"},"mark":{"type":"rule","strokeWidth":1.3},"encoding":{"x":{"field":"t","type":"quantitative"},"y":{"field":"l","type":"quantitative","scale":{"domain":[72.45,155.95],"nice":false,"zero":false},"axis":{"orient":"right","values":[75,80,85,90,95,100,105,110,115,120,125,130,135,140,145,150,155],"tickCount":40,"format":".2f","grid":true,"tickSize":5,"labelPadding":5,"labelOverlap":false}},"y2":{"field":"h"},"color":{"condition":[{"test":"datum.c>datum.o","value":"#2e8b74"},{"test":"datum.c<datum.o","value":"#d9604a"}],"value":"#111111"}}},
{"data":{"name":"candles"},"mark":{"type":"bar","size":6},"encoding":{"x":{"field":"t","type":"quantitative"},"y":{"field":"o","type":"quantitative"},"y2":{"field":"c"},"color":{"condition":[{"test":"datum.c>datum.o","value":"#2e8b74"},{"test":"datum.c<datum.o","value":"#d9604a"}],"value":"#111111"}}},
{"data":{"name":"sma"},"mark":{"type":"line","strokeWidth":2.4,"interpolate":"monotone"},"encoding":{"x":{"field":"t","type":"quantitative"},"y":{"field":"v","type":"quantitative"},"detail":{"field":"s"},"color":{"field":"s","type":"nominal","legend":null,"scale":{"domain":["21","9"],"range":["#1f5fbf","#ad9f1c"]}}}},
{"data":{"name":"trend"},"mark":{"type":"line","strokeWidth":2.8,"color":"#0c0c0c"},"encoding":{"x":{"field":"t","type":"quantitative"},"y":{"field":"p","type":"quantitative"},"detail":{"field":"n"}}},
{"data":{"values":[{"a":-0.694,"b":185.3,"p":142.76}]},"mark":{"type":"rule","color":"#2b4c7e","strokeWidth":1},"encoding":{"x":{"field":"a","type":"quantitative"},"x2":{"field":"b"},"y":{"field":"p","type":"quantitative"}}},
{"data":{"name":"boxes1"},"mark":{"type":"rect","opacity":0.98},"encoding":{"x":{"field":"a","type":"quantitative"},"x2":{"field":"b"},"y":{"field":"lo","type":"quantitative"},"y2":{"field":"hi"},"fill":{"field":"k","type":"nominal","legend":null,"scale":{"domain":["box","green","blue","olive"],"range":["#5b5b5b","#2e8b74","#1c4fb0","#a89a12"]}}}},
{"data":{"name":"labels1"},"mark":{"type":"text","align":"left","baseline":"middle","fontSize":12,"color":"#ffffff","font":"Liberation Sans"},"encoding":{"x":{"field":"t","type":"quantitative"},"y":{"field":"p","type":"quantitative"},"text":{"field":"x"}}},
{"data":{"values":[{"t":6.65,"p":153.2,"x":"↻"},{"t":9.5,"p":153.2,"x":"▥"}]},"mark":{"type":"text","align":"center","baseline":"middle","fontSize":17,"color":"#dddddd","font":"DejaVu Sans"},"encoding":{"x":{"field":"t","type":"quantitative"},"y":{"field":"p","type":"quantitative"},"text":{"field":"x"}}},
{"data":{"values":[{"a":185.75,"b":191.2,"lo":141.4,"hi":144.1}]},"mark":{"type":"rect","color":"#2b4c7e"},"encoding":{"x":{"field":"a","type":"quantitative"},"x2":{"field":"b"},"y":{"field":"lo","type":"quantitative"},"y2":{"field":"hi"}}},
{"data":{"values":[{"t":185.55,"p":142.76}]},"mark":{"type":"point","shape":"triangle-left","filled":true,"size":150,"opacity":1,"color":"#2b4c7e"},"encoding":{"x":{"field":"t","type":"quantitative"},"y":{"field":"p","type":"quantitative"}}},
{"data":{"values":[{"t":188.4,"p":142.72,"x":"142.76"}]},"mark":{"type":"text","align":"center","baseline":"middle","fontSize":12,"fontWeight":"bold","color":"#ffffff"},"encoding":{"x":{"field":"t","type":"quantitative"},"y":{"field":"p","type":"quantitative"},"text":{"field":"x"}}}
]},
{"width":1607,"height":77,"layer":[
{"data":{"name":"months"},"mark":{"type":"rule","color":"#e8e8ea"},"encoding":{"x":{"field":"t","type":"quantitative","scale":{"domain":[-0.694,185.23],"nice":false,"zero":false,"padding":0},"axis":null}}},
{"data":{"name":"hist"},"mark":{"type":"bar","size":6},"encoding":{"x":{"field":"t","type":"quantitative"},"y":{"field":"h","type":"quantitative","scale":{"domain":[-3.58,9.54],"nice":false,"zero":false},"axis":{"orient":"right","values":[0,5],"format":".2f","grid":true,"tickSize":5,"labelPadding":5,"labelOverlap":false}},"y2":{"datum":0},"color":{"condition":{"test":"datum.h>0","value":"#0fe80f"},"value":"#ff0000"}}},
{"data":{"name":"macdLines"},"mark":{"type":"line","strokeWidth":1.5},"encoding":{"x":{"field":"t","type":"quantitative"},"y":{"field":"v","type":"quantitative"},"detail":{"field":"s"},"color":{"field":"s","type":"nominal","legend":null,"scale":{"domain":["macd","signal"],"range":["#4a6cdc","#f09a5c"]}}}},
{"data":{"values":[{"k":"b","a":0.12,"b":12.15,"lo":4.43,"hi":8.74},{"k":"s","a":-0.23,"b":0.12,"lo":4.43,"hi":8.74}]},"mark":{"type":"rect"},"encoding":{"x":{"field":"a","type":"quantitative"},"x2":{"field":"b"},"y":{"field":"lo","type":"quantitative"},"y2":{"field":"hi"},"fill":{"field":"k","type":"nominal","legend":null,"scale":{"domain":["b","s"],"range":["#5b5b5b","#1a2fe0"]}}}},
{"data":{"values":[{"t":0.93,"p":6.6,"x":"MACD (12,26,9)"}]},"mark":{"type":"text","align":"left","baseline":"middle","fontSize":12,"color":"#ffffff"},"encoding":{"x":{"field":"t","type":"quantitative"},"y":{"field":"p","type":"quantitative"},"text":{"field":"x"}}},
{"data":{"values":[{"a":90.6,"b":93.2,"y":10.73},{"a":90.6,"b":93.2,"y":10.31},{"a":90.6,"b":93.2,"y":9.88}]},"mark":{"type":"rule","color":"#8a8a8a","strokeWidth":1},"encoding":{"x":{"field":"a","type":"quantitative"},"x2":{"field":"b"},"y":{"field":"y","type":"quantitative"}}}
]},
{"width":1607,"height":78,"layer":[
{"data":{"name":"months"},"mark":{"type":"rule","color":"#e8e8ea"},"encoding":{"x":{"field":"t","type":"quantitative","scale":{"domain":[-0.694,185.23],"nice":false,"zero":false},"axis":{"orient":"bottom","values":[0,3,7,11,15,18,22,26,30,34,39,43,47,51,55,59,63,67,71,75,81,85,89,93,97,102,106,110,114,118,124,128,132,136,140,145,149,153,157,161,166,170,174,178,182],"tickCount":100,"labelExpr":"{'0':'Mar','3':'11','7':'17','11':'23','15':'29','18':'Apr','22':'8','26':'14','30':'20','34':'26','39':'May','43':'7','47':'13','51':'19','55':'25','59':'Jun','63':'7','67':'11','71':'17','75':'23','81':'Jul','85':'8','89':'14','93':'20','97':'26','102':'Aug','106':'6','110':'12','114':'18','118':'24','124':'Sep','128':'8','132':'14','136':'20','140':'24','145':'Oct','149':'7','153':'13','157':'19','161':'25','166':'Nov','170':'5','174':'11','178':'17','182':'23'}[''+datum.value]","grid":false,"tickSize":4,"labelPadding":4,"labelFlush":false,"labelOverlap":false}}}},
{"data":{"values":[{"k":"g","a":-0.694,"b":174,"lo":70,"hi":100},{"k":"r","a":-0.694,"b":174,"lo":0,"hi":30}]},"mark":{"type":"rect"},"encoding":{"x":{"field":"a","type":"quantitative"},"x2":{"field":"b"},"y":{"field":"lo","type":"quantitative","scale":{"domain":[-1.35,104],"nice":false,"zero":false},"axis":{"orient":"right","values":[0,50],"format":".2f","grid":true,"tickSize":5,"labelPadding":5,"labelOverlap":false}},"y2":{"field":"hi"},"fill":{"field":"k","type":"nominal","legend":null,"scale":{"domain":["g","r","b","s"],"range":["#78fa78","#ff7d7d","#2f6a33","#0fe80f"]}}}},
{"data":{"values":[{"a":-0.694,"b":174,"y":70},{"a":-0.694,"b":174,"y":30}]},"mark":{"type":"rule","color":"#1a1a1a","strokeWidth":1,"strokeDash":[2,1]},"encoding":{"x":{"field":"a","type":"quantitative"},"x2":{"field":"b"},"y":{"field":"y","type":"quantitative"}}},
{"data":{"values":[{"t":174,"lo":70,"hi":100},{"t":174,"lo":0,"hi":30}]},"mark":{"type":"rule","color":"#1a1a1a","strokeWidth":1},"encoding":{"x":{"field":"t","type":"quantitative"},"y":{"field":"lo","type":"quantitative"},"y2":{"field":"hi"}}},
{"data":{"name":"rsi"},"mark":{"type":"line","strokeWidth":1.4,"color":"#3f62d6"},"encoding":{"x":{"field":"t","type":"quantitative"},"y":{"field":"v","type":"quantitative"}}},
{"data":{"values":[{"k":"b","a":0.12,"b":12.38,"lo":62.6,"hi":95.9},{"k":"s","a":-0.23,"b":0.12,"lo":62.6,"hi":95.9}]},"mark":{"type":"rect"},"encoding":{"x":{"field":"a","type":"quantitative"},"x2":{"field":"b"},"y":{"field":"lo","type":"quantitative"},"y2":{"field":"hi"},"fill":{"field":"k","type":"nominal","legend":null}}},
{"data":{"values":[{"t":0.93,"p":79.2,"x":"RSI (14,70,30,1)"}]},"mark":{"type":"text","align":"left","baseline":"middle","fontSize":12,"color":"#ffffff"},"encoding":{"x":{"field":"t","type":"quantitative"},"y":{"field":"p","type":"quantitative"},"text":{"field":"x"}}},
{"data":{"values":[{"a":90.6,"b":93.2,"y":112.8},{"a":90.6,"b":93.2,"y":109.5},{"a":90.6,"b":93.2,"y":106}]},"mark":{"type":"rule","color":"#8a8a8a","strokeWidth":1},"encoding":{"x":{"field":"a","type":"quantitative"},"x2":{"field":"b"},"y":{"field":"y","type":"quantitative"}}}
]}
],
"resolve":{"scale":{"color":"independent","fill":"independent"}}}
